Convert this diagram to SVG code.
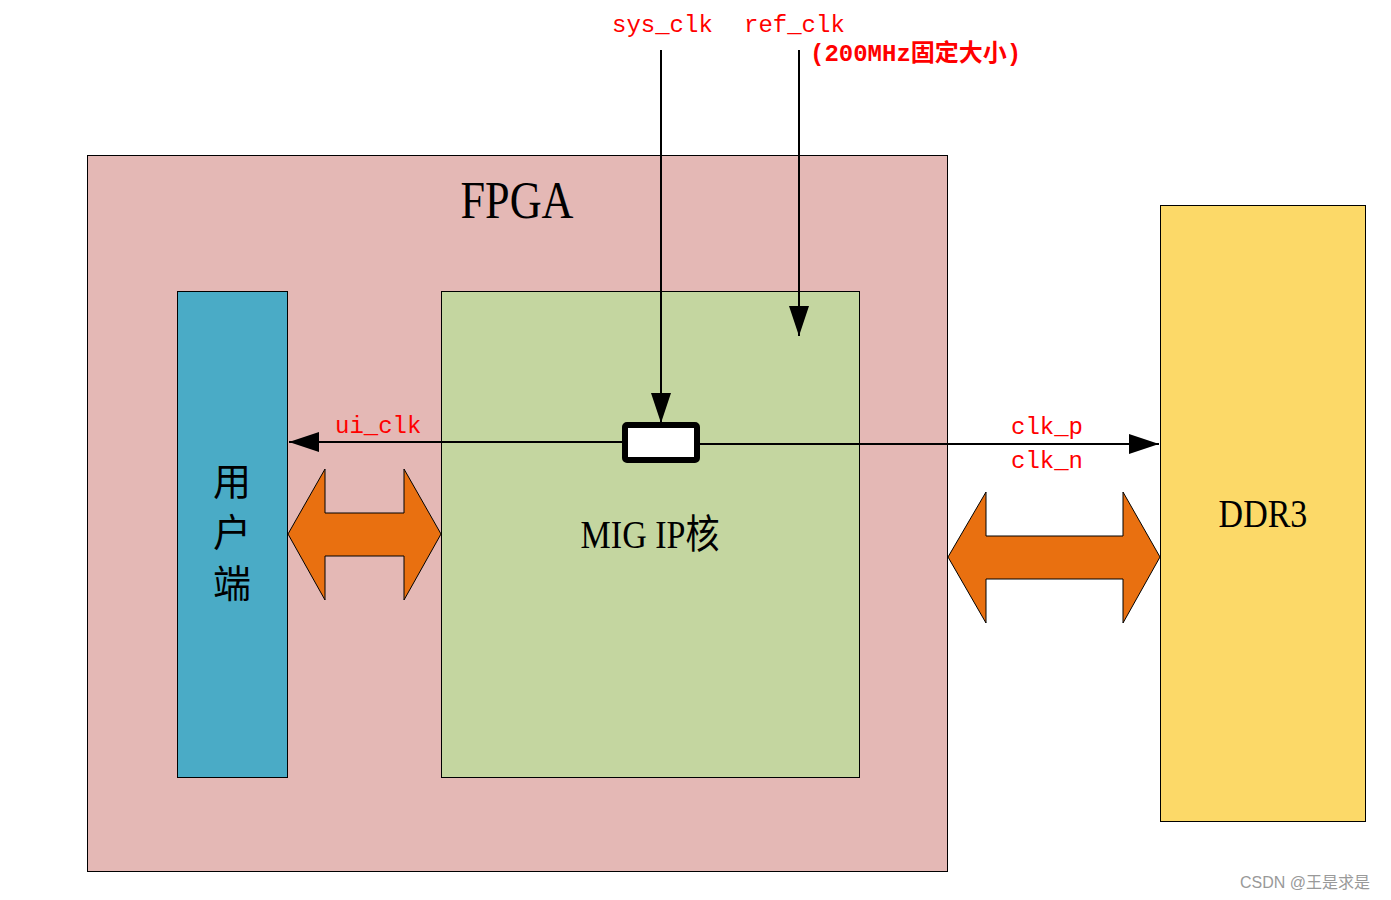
<svg xmlns="http://www.w3.org/2000/svg" width="1391" height="900" viewBox="0 0 1391 900">
<defs>
<style>
.lbl{font-family:"Liberation Mono","Noto Sans CJK SC",monospace;fill:#ff0000;font-size:24px}
.big{font-family:"Liberation Serif","Noto Sans CJK SC",serif;fill:#000}
.box{stroke:#000;stroke-width:1}
.ln{stroke:#000;stroke-width:2;fill:none}
.arr{fill:#e97010;stroke:#000;stroke-width:1}
</style>
<marker id="ah" markerWidth="32" markerHeight="20" refX="30" refY="10" orient="auto" markerUnits="userSpaceOnUse"><path d="M0,0 L30,10 L0,20 Z" fill="#000"/></marker>
</defs>
<rect width="1391" height="900" fill="#fff"/>
<g id="fpga"><rect class="box" x="87.500" y="155.500" width="860" height="716" fill="#e4b8b5"/>
<text class="big" x="517" y="218" font-size="52" text-anchor="middle" transform="translate(517 0) scale(0.85 1) translate(-517 0)">FPGA</text></g>
<g id="user"><rect class="box" x="177.500" y="291.500" width="110" height="486" fill="#4aabc6"/>
<text class="big" x="232" y="495" font-size="38" text-anchor="middle" font-family="Noto Sans CJK SC">用</text>
<text class="big" x="232" y="546" font-size="38" text-anchor="middle" font-family="Noto Sans CJK SC">户</text>
<text class="big" x="232" y="597" font-size="38" text-anchor="middle" font-family="Noto Sans CJK SC">端</text></g>
<g id="mig"><rect class="box" x="441.500" y="291.500" width="418" height="486" fill="#c4d6a0"/>
<text class="big" x="650" y="548" font-size="40" text-anchor="middle" font-family="Liberation Mono,Noto Sans CJK SC,monospace" transform="translate(650 0) scale(0.85 1) translate(-650 0)">MIG IP核</text></g>
<g id="ddr3"><rect class="box" x="1160.500" y="205.500" width="205" height="616" fill="#fcd968"/>
<text class="big" x="1263" y="527" font-size="40" text-anchor="middle" transform="translate(1263 0) scale(0.85 1) translate(-1263 0)">DDR3</text></g>
<g id="connectors">
<line class="ln" x1="661" y1="50" x2="661" y2="423" marker-end="url(#ah)"/>
<line class="ln" x1="799" y1="50" x2="799" y2="336" marker-end="url(#ah)"/>
<line class="ln" x1="625" y1="442" x2="289" y2="442" marker-end="url(#ah)"/>
<line class="ln" x1="699" y1="444" x2="1159" y2="444" marker-end="url(#ah)"/>
<polygon class="arr" points="288,534 325,469 325,513 404,513 404,469 441,534 404,600 404,556 325,556 325,600"/>
<polygon class="arr" points="948,557 986,492 986,536 1123,536 1123,492 1160,557 1123,623 1123,579 986,579 986,623"/>
</g>
<g id="clkbox"><rect x="625" y="425" width="72" height="35" fill="#fff" stroke="#000" stroke-width="6" rx="2"/></g>
<g id="labels">
<text class="lbl" x="612" y="32">sys_clk</text>
<text class="lbl" x="744" y="32">ref_clk</text>
<text class="lbl" x="810" y="61" font-size="16" font-family="Liberation Serif,Noto Sans CJK SC,serif" font-weight="bold">(200MHz固定大小)</text>
<text class="lbl" x="335" y="433">ui_clk</text>
<text class="lbl" x="1011" y="434">clk_p</text>
<text class="lbl" x="1011" y="468">clk_n</text>
<text x="1240" y="888" font-family="Liberation Sans,Noto Sans CJK SC,sans-serif" font-size="16" fill="#999">CSDN @王是求是</text>
</g>
</svg>
